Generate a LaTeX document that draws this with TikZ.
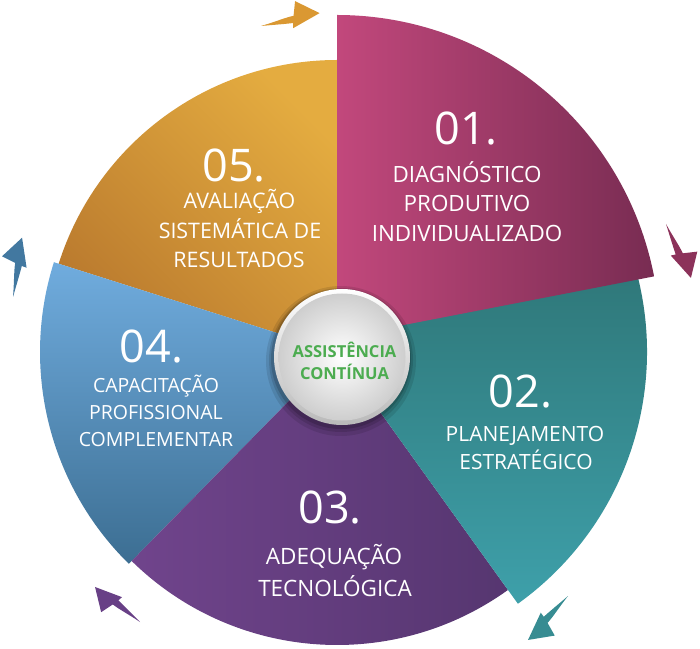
\documentclass[tikz,border=0pt]{standalone}
\usepackage{fontspec}
\setmainfont{Open Sans}
\definecolor{pinkL}{RGB}{194,72,124}
\definecolor{pinkR}{RGB}{120,44,82}
\definecolor{tealT}{RGB}{44,112,112}
\definecolor{tealB}{RGB}{62,160,170}
\definecolor{purpL}{RGB}{112,68,140}
\definecolor{purpR}{RGB}{86,54,112}
\definecolor{blueT}{RGB}{112,172,222}
\definecolor{blueB}{RGB}{60,110,146}
\definecolor{orgT}{RGB}{228,172,64}
\definecolor{orgB}{RGB}{186,122,46}
\definecolor{arOrg}{RGB}{218,152,50}
\definecolor{arPink}{RGB}{140,50,90}
\definecolor{arTeal}{RGB}{55,140,146}
\definecolor{arPurp}{RGB}{104,64,134}
\definecolor{arBlue}{RGB}{66,120,160}
\definecolor{hubGreen}{RGB}{76,172,80}
\newcommand\swooshArrow[4]{%
  \fill[#4, shift={#1}, rotate=#2, scale=#3]
    (0,0) .. controls (15,1) and (25,3) .. (34,3) -- (38.6,17) -- (60,0)
    -- (31,-9) -- (32,-4) .. controls (22,-3) and (12,-1.5) .. (0,0) -- cycle;}
\begin{document}
\begin{tikzpicture}[x=1pt,y=1pt,
  numtxt/.style={text=white, anchor=base, inner sep=0pt, font=\fontsize{45}{45}\selectfont},
  lbl/.style={text=white, anchor=base, inner sep=0pt, font=\fontsize{#1}{#1}\selectfont},
  hubtxt/.style={text=hubGreen, anchor=base, inner sep=0pt, font=\fontsize{16.5}{16.5}\selectfont\bfseries}]
\useasboundingbox (0,0) rectangle (700,648);
\coordinate (C) at (337,296);
\coordinate (P) at (337,310);
% slices
\shade[top color=orgT, bottom color=orgB, shading angle=-45]
  (C) -- ++(162.4:292) arc (162.4:90:292) -- cycle;
\shade[top color=blueT, bottom color=blueB]
  (C) -- ++(-134.5:297) arc (-134.5:-197.6:297) -- cycle;
\shade[left color=purpL, right color=purpR]
  (C) -- ++(-54.3:293) arc (-54.3:-134.5:293) -- cycle;
\shade[top color=tealT, bottom color=tealB]
  (C) -- ++(28:310) arc (28:-54.3:310) -- cycle;
\shade[left color=pinkL, right color=pinkR]
  (P) -- ++(90:323) arc (90:11:323) -- cycle;
% hub
\coordinate (H) at (342,291);
\fill[black,opacity=0.10] (341,287) circle (75);
\fill[black,opacity=0.12] (341,288) circle (72);
\fill[black,opacity=0.15] (341,289) circle (70);
\shade[top color=white, bottom color={rgb,255:red,185;green,185;blue,185}] (H) circle (68);
\shade[inner color=white, outer color={rgb,255:red,206;green,206;blue,206}] (H) circle (63.5);
% arrows
\swooshArrow{(261,622)}{12.4}{1.0}{arOrg}
\swooshArrow{(666,424)}{-65.2}{0.99}{arPink}
\swooshArrow{(568,52)}{-132.3}{0.99}{arTeal}
\swooshArrow{(140,26)}{142.1}{0.95}{arPurp}
\swooshArrow{(13,351)}{81.3}{1.0}{arBlue}
% texts: 01
\node[numtxt] (n1) at (466,503) {01.};
\node[lbl=22.4] (t1a) at (467,465) {DIAGNÓSTICO};
\node[lbl=22.4] (t1b) at (467,436) {PRODUTIVO};
\node[lbl=22.4] (t1c) at (467,406) {INDIVIDUALIZADO};
% 02
\node[numtxt] (n2) at (520.5,241) {02.};
\node[lbl=21] (t2a) at (525,207) {PLANEJAMENTO};
\node[lbl=21] (t2b) at (526,179) {ESTRATÉGICO};
% 03
\node[numtxt] (n3) at (330,125) {03.};
\node[lbl=22.5] (t3a) at (334,84) {ADEQUAÇÃO};
\node[lbl=22.5] (t3b) at (335,52) {TECNOLÓGICA};
% 04
\node[numtxt] (n4) at (151.5,285) {04.};
\node[lbl=19.5] (t4a) at (156,255) {CAPACITAÇÃO};
\node[lbl=19.5] (t4b) at (156,229) {PROFISSIONAL};
\node[lbl=19.5] (t4c) at (156,202) {COMPLEMENTAR};
% 05
\node[numtxt] (n5) at (234,466) {05.};
\node[lbl=21.4] (t5a) at (239.5,439) {AVALIAÇÃO};
\node[lbl=21.4] (t5b) at (240,409) {SISTEMÁTICA DE};
\node[lbl=21.4] (t5c) at (239,380) {RESULTADOS};
% hub text
\node[hubtxt] (h1) at (344.5,290) {ASSISTÊNCIA};
\node[hubtxt] (h2) at (344.5,269) {CONTÍNUA};
\end{tikzpicture}
\end{document}
